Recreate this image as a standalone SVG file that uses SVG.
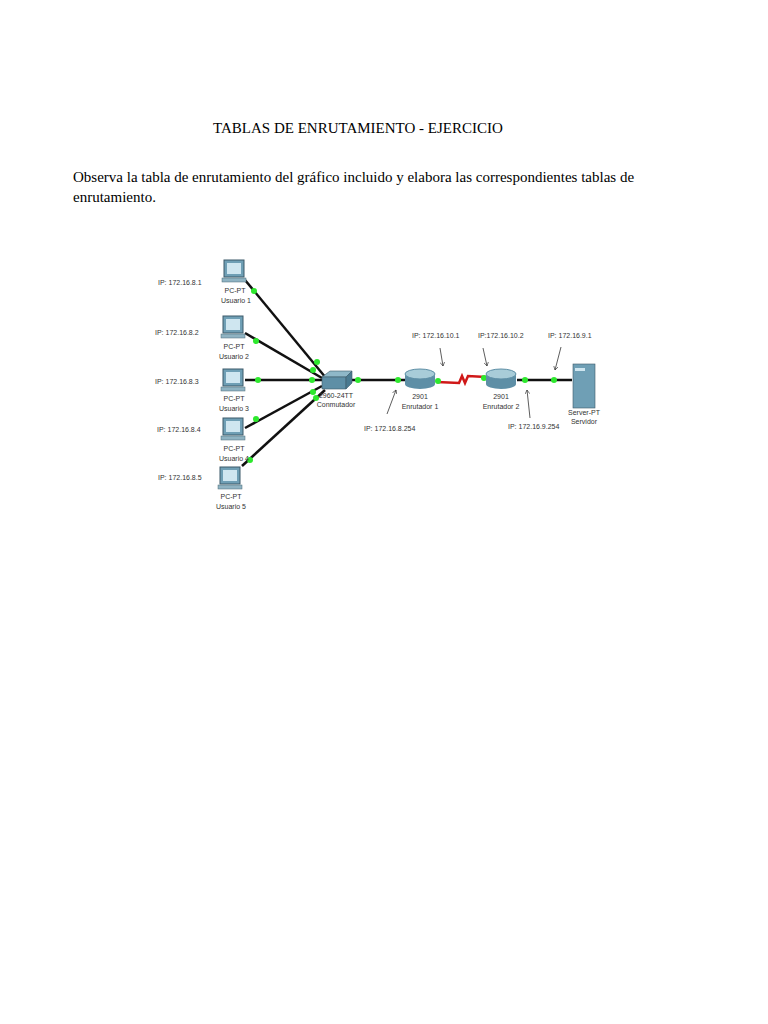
<svg xmlns="http://www.w3.org/2000/svg" width="768" height="1024" viewBox="0 0 768 1024">
<style>
.t{font-family:"Liberation Serif",serif;font-size:15px;fill:#000}
.s{font-family:"Liberation Sans",sans-serif;font-size:7px;fill:#333}
.l{font-family:"Liberation Sans",sans-serif;font-size:7px;fill:#333;text-anchor:middle}
.c{stroke:#111;stroke-width:2.5;fill:none}
.a{stroke:#333;stroke-width:0.8;fill:none;marker-end:url(#ah)}
.d{fill:#2ee82e}
</style>
<defs>
<marker id="ah" markerWidth="6" markerHeight="6" refX="5" refY="3" orient="auto"><path d="M0,0 L5,3 L0,6" fill="none" stroke="#333" stroke-width="0.8"/></marker>
<g id="pc">
<rect x="0" y="0" width="20" height="17" fill="#6f9fb5" stroke="#3c5a6a"/>
<rect x="3" y="3" width="14" height="11" fill="#cfe6f0"/>
<rect x="-2" y="18" width="24" height="4" fill="#8fb3c2" stroke="#4d6b78" stroke-width="0.5"/>
</g>
</defs>
<rect width="768" height="1024" fill="#fff"/>
<text class="t" x="213" y="133">TABLAS DE ENRUTAMIENTO - EJERCICIO</text>
<text class="t" x="73" y="182">Observa la tabla de enrutamiento del gráfico incluido y elabora las correspondientes tablas de</text>
<text class="t" x="73" y="202">enrutamiento.</text>
<g id="connectors">
<line class="c" x1="245" y1="280" x2="326" y2="378"/>
<line class="c" x1="245" y1="333" x2="322" y2="378"/>
<line class="c" x1="245" y1="380" x2="322" y2="380"/>
<line class="c" x1="245" y1="428" x2="322" y2="386"/>
<line class="c" x1="242" y1="466" x2="325" y2="390"/>
<line class="c" x1="350" y1="380" x2="405" y2="380"/>
<polyline points="437,382 459,383 462,376 465,383 468,376 486,377" fill="none" stroke="#d01818" stroke-width="2.5"/>
<line class="c" x1="517" y1="380" x2="572" y2="380"/>
<circle class="d" cx="254" cy="291" r="3"/><circle class="d" cx="317" cy="362" r="3"/>
<circle class="d" cx="256" cy="341" r="3"/><circle class="d" cx="313" cy="370" r="3"/>
<circle class="d" cx="258" cy="380" r="3"/><circle class="d" cx="312" cy="380" r="3"/>
<circle class="d" cx="256" cy="419" r="3"/><circle class="d" cx="313" cy="392" r="3"/>
<circle class="d" cx="250" cy="460" r="3"/><circle class="d" cx="316" cy="398" r="3"/>
<circle class="d" cx="358" cy="380" r="3"/><circle class="d" cx="398" cy="380" r="3"/>
<circle class="d" cx="438" cy="381" r="3"/><circle class="d" cx="484" cy="378" r="3"/>
<circle class="d" cx="525" cy="380" r="3"/><circle class="d" cx="554" cy="380" r="3"/>
<path class="a" d="M440,348 L443,366"/>
<path class="a" d="M483,348 L487,366"/>
<path class="a" d="M561,347 L555,370"/>
<path class="a" d="M387,414 L396,390"/>
<path class="a" d="M530,418 L527,390"/>
</g>
<g id="pc1"><use href="#pc" x="224" y="260"/><text class="l" x="235" y="293">PC-PT</text><text class="l" x="236" y="303">Usuario 1</text><text class="s" x="158" y="285">IP: 172.16.8.1</text></g>
<g id="pc2"><use href="#pc" x="223" y="316"/><text class="l" x="234" y="349">PC-PT</text><text class="l" x="234" y="359">Usuario 2</text><text class="s" x="155" y="335">IP: 172.16.8.2</text></g>
<g id="pc3"><use href="#pc" x="223" y="369"/><text class="l" x="234" y="401">PC-PT</text><text class="l" x="234" y="411">Usuario 3</text><text class="s" x="155" y="384">IP: 172.16.8.3</text></g>
<g id="pc4"><use href="#pc" x="223" y="418"/><text class="l" x="234" y="451">PC-PT</text><text class="l" x="234" y="461">Usuario 4</text><text class="s" x="157" y="432">IP: 172.16.8.4</text></g>
<g id="pc5"><use href="#pc" x="220" y="467"/><text class="l" x="231" y="499">PC-PT</text><text class="l" x="231" y="509">Usuario 5</text><text class="s" x="158" y="480">IP: 172.16.8.5</text></g>
<g id="switch">
<polygon points="322,377 330,371 352,371 346,377" fill="#8fb8c8" stroke="#3c5a6a" stroke-width="0.6"/>
<polygon points="322,377 346,377 346,389 322,389" fill="#5e8fa6" stroke="#3c5a6a" stroke-width="0.6"/>
<polygon points="346,377 352,371 352,383 346,389" fill="#4a7a90" stroke="#3c5a6a" stroke-width="0.6"/>
<text class="l" x="336" y="398">2960-24TT</text><text class="l" x="336" y="407">Conmutador</text>
</g>
<g id="router1">
<rect x="405" y="374" width="30" height="10" fill="#5e8fa6"/>
<ellipse cx="420" cy="384" rx="15" ry="5" fill="#5e8fa6"/>
<ellipse cx="420" cy="374" rx="15" ry="5" fill="#a8ccd8" stroke="#5e8fa6"/>
<text class="l" x="420" y="399">2901</text><text class="l" x="420" y="409">Enrutador 1</text>
<text class="s" x="412" y="338">IP: 172.16.10.1</text>
<text class="s" x="364" y="431">IP: 172.16.8.254</text>
</g>
<g id="router2">
<rect x="486" y="374" width="30" height="10" fill="#5e8fa6"/>
<ellipse cx="501" cy="384" rx="15" ry="5" fill="#5e8fa6"/>
<ellipse cx="501" cy="374" rx="15" ry="5" fill="#a8ccd8" stroke="#5e8fa6"/>
<text class="l" x="501" y="399">2901</text><text class="l" x="501" y="409">Enrutador 2</text>
<text class="s" x="478" y="338">IP:172.16.10.2</text>
<text class="s" x="508" y="429">IP: 172.16.9.254</text>
</g>
<g id="server">
<rect x="573" y="364" width="22" height="44" fill="#6f9fb5" stroke="#3c5a6a" stroke-width="0.6"/>
<rect x="575" y="368" width="10" height="3" fill="#cfe6f0"/>
<text class="l" x="584" y="415">Server-PT</text><text class="l" x="584" y="424">Servidor</text>
<text class="s" x="548" y="338">IP: 172.16.9.1</text>
</g>
</svg>
